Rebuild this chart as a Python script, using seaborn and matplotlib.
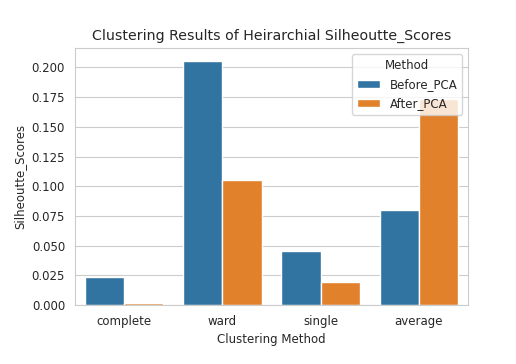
import pandas as pd
import matplotlib
matplotlib.use('Agg')
import matplotlib.pyplot as plt
import seaborn as sns

# data
methods = ['complete', 'ward', 'single', 'average']
before_pca = [0.0235, 0.2057, 0.0456, 0.0802]
after_pca = [0.0015, 0.1050, 0.0197, 0.1730]

df = pd.DataFrame({
    'Clustering Method': methods * 2,
    'Silheoutte_Scores': before_pca + after_pca,
    'Method': ['Before_PCA'] * 4 + ['After_PCA'] * 4,
})

sns.set_style('whitegrid')
fig, ax = plt.subplots(figsize=(5.16, 3.64), dpi=100)
sns.barplot(data=df, x='Clustering Method', y='Silheoutte_Scores', hue='Method', ax=ax)
ax.set_title('Clustering Results of Heirarchial Silheoutte_Scores', fontsize=10.2)
ax.set_xlabel('Clustering Method', fontsize=8.5)
ax.set_ylabel('Silheoutte_Scores', fontsize=8.5)
ax.tick_params(labelsize=8.5)
ax.legend(title='Method', loc='upper right', fontsize=8.5, title_fontsize=8.5)

plt.subplots_adjust(left=0.145, right=0.907, top=0.867, bottom=0.162)
plt.savefig('out.png', dpi=100)
